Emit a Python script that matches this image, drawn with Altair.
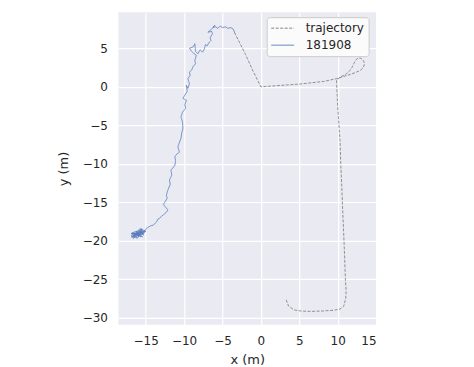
import altair as alt
import pandas as pd

# Ground-truth trajectory (dashed)
traj_x = [3.3, 3.6, 4.3, 5.2, 6.5, 8.0, 9.5, 10.3, 10.8, 11.05, 11.1, 11.0, 10.9, 10.8,
          10.65, 10.55, 10.4, 10.3, 10.1, 10.0, 9.9, 9.85, 10.4, 11.0, 11.5, 11.85, 12.15,
          12.3, 12.5, 12.75, 13.0, 13.25, 13.4, 13.47, 13.42, 13.25, 12.95, 12.3, 11.6,
          10.8, 9.8, 8.2, 5.0, 0.0, -1.0, -2.0, -2.8, -3.2, -3.4]
traj_y = [-27.7, -28.5, -29.0, -29.15, -29.2, -29.15, -29.05, -28.9, -28.5, -27.5, -26.5,
          -25.0, -22.0, -19.5, -16.0, -13.4, -10.0, -7.0, -4.0, -2.5, -0.5, 0.9, 1.3, 1.6,
          2.0, 2.5, 3.1, 3.4, 3.62, 3.75, 3.72, 3.55, 3.3, 3.0, 2.7, 2.4, 2.15, 1.85, 1.6,
          1.35, 1.05, 0.7, 0.35, 0.0, 2.0, 4.2, 5.8, 6.6, 7.0]

# Track 181908 (solid)
track_x = [-3.4, -3.6, -3.9, -4.3, -4.6, -5.0, -5.3, -5.6, -5.9, -6.2, -6.0, -6.3, -6.9,
           -6.4, -6.3, -6.6, -6.5, -6.8, -7.0, -7.2, -7.4, -7.6, -7.9, -8.2, -8.5, -8.6,
           -8.8, -9.3, -9.0, -8.7, -8.4, -8.6, -8.5, -8.85, -9.0, -9.3, -9.2, -9.5, -9.3,
           -9.5, -9.7, -9.6, -10.15, -9.7, -9.9, -9.8, -10.2, -10.4, -10.2, -10.15, -10.3,
           -10.4, -10.6, -10.8, -10.6, -11.0, -11.2, -11.1, -11.2, -11.5, -11.7, -11.6,
           -11.9, -11.8, -12.1, -12.3, -12.2, -12.5, -12.7, -12.1, -12.3, -12.5, -12.9,
           -13.2, -13.4, -13.6, -14.05, -14.4, -14.9,
           -15.2, -15.6, -15.4, -15.9, -15.7, -16.2, -15.9, -16.5, -16.1, -16.7, -16.4,
           -16.9, -16.3, -16.8, -15.8, -16.0, -15.5, -15.3, -15.8, -15.1, -16.6, -16.0,
           -16.9, -15.6, -15.2, -16.2, -15.5, -16.6, -15.9, -16.8, -15.4, -16.3, -15.0,
           -15.7, -16.5, -15.3, -16.1, -15.6]
track_y = [7.0, 7.5, 7.7, 7.6, 7.8, 7.7, 7.9, 7.6, 7.8, 7.7, 8.0, 7.6, 7.1,
           7.2, 6.9, 6.4, 6.0, 5.7, 5.3, 5.5, 4.8, 4.5, 4.8, 4.3, 4.6, 5.6,
           5.2, 5.0, 4.6, 4.3, 4.1, 3.4, 3.0, 2.6, 2.2, 1.9, 1.5, 1.06, 0.4,
           -0.2, 0.2, -0.6, -1.5, -1.75, -2.3, -2.8, -3.3, -3.9, -4.6, -5.4, -6.0,
           -6.7, -7.2, -7.8, -8.5, -8.8, -9.1, -9.6, -10.2, -10.6, -10.8, -11.5,
           -12.1, -12.7, -13.4, -14.1, -14.5, -15.0, -15.3, -16.0, -16.3, -16.5, -16.8,
           -17.1, -17.2, -17.6, -18.0, -18.1, -18.4,
           -18.9, -18.4, -19.2, -18.6, -19.5, -18.8, -19.4, -19.0, -19.7, -19.2, -19.6,
           -19.4, -19.0, -19.6, -18.9, -19.6, -18.8, -19.3, -18.5, -18.7, -19.7, -19.1,
           -19.1, -19.1, -19.0, -19.3, -18.6, -19.5, -18.7, -19.0, -19.5, -18.9, -18.8,
           -19.3, -19.1, -18.9, -19.4, -18.8]

series_names = ["trajectory", "181908"]
series_colors = ["#858585", "#5a7dbb"]
series_dashes = [[3, 1.5], [1, 0]]

x_ticks = [-15, -10, -5, 0, 5, 10, 15]
y_ticks = [-30, -25, -20, -15, -10, -5, 0, 5]

df_t = pd.DataFrame({"x": traj_x, "y": traj_y, "series": series_names[0],
                     "i": list(range(len(traj_x)))})
df_b = pd.DataFrame({"x": track_x, "y": track_y, "series": series_names[1],
                     "i": list(range(len(track_x)))})

x_enc = alt.X("x:Q", scale=alt.Scale(domain=[-18.55, 15.0], nice=False, zero=False),
              axis=alt.Axis(values=x_ticks, title="x (m)", titlePadding=7))
y_enc = alt.Y("y:Q", scale=alt.Scale(domain=[-30.95, 9.7], nice=False, zero=False),
              axis=alt.Axis(values=y_ticks, title="y (m)", titlePadding=12))
color_enc = alt.Color("series:N", scale=alt.Scale(domain=series_names, range=series_colors),
                      legend=alt.Legend(title=None))
dash_enc = alt.StrokeDash("series:N", scale=alt.Scale(domain=series_names, range=series_dashes),
                          legend=alt.Legend(title=None))

line_t = alt.Chart(df_t).mark_line(strokeWidth=0.9, clip=True).encode(
    x=x_enc, y=y_enc, color=color_enc, strokeDash=dash_enc, order="i:Q")
line_b = alt.Chart(df_b).mark_line(strokeWidth=0.85, clip=True).encode(
    x=x_enc, y=y_enc, color=color_enc, strokeDash=dash_enc, order="i:Q")

chart = alt.layer(line_t, line_b).properties(
    width=258, height=313,
    autosize=alt.AutoSizeParams(type="none"),
    padding={"left": 110.5, "top": 4, "right": 90, "bottom": 50},
).configure_view(
    fill="#EAEAF2", strokeWidth=0
).configure_axis(
    grid=True, gridColor="white", gridWidth=1.2, domain=False, ticks=False,
    labelFont="DejaVu Sans", labelFontSize=12, labelColor="#262626", labelPadding=11,
    titleFont="DejaVu Sans", titleFontSize=13, titleColor="#262626", titleFontWeight="normal",
).configure_legend(
    orient="none", legendX=148.5, legendY=5, fillColor="#FBFBFC", strokeColor="#CCCCCC",
    cornerRadius=3, padding=4, labelFont="DejaVu Sans", labelFontSize=12,
    labelColor="#262626", symbolType="stroke", symbolSize=529, symbolStrokeWidth=1,
    labelOffset=11, rowPadding=3, clipHeight=14,
)

chart.save("out.html", embed_options={"renderer": "svg", "actions": False})
